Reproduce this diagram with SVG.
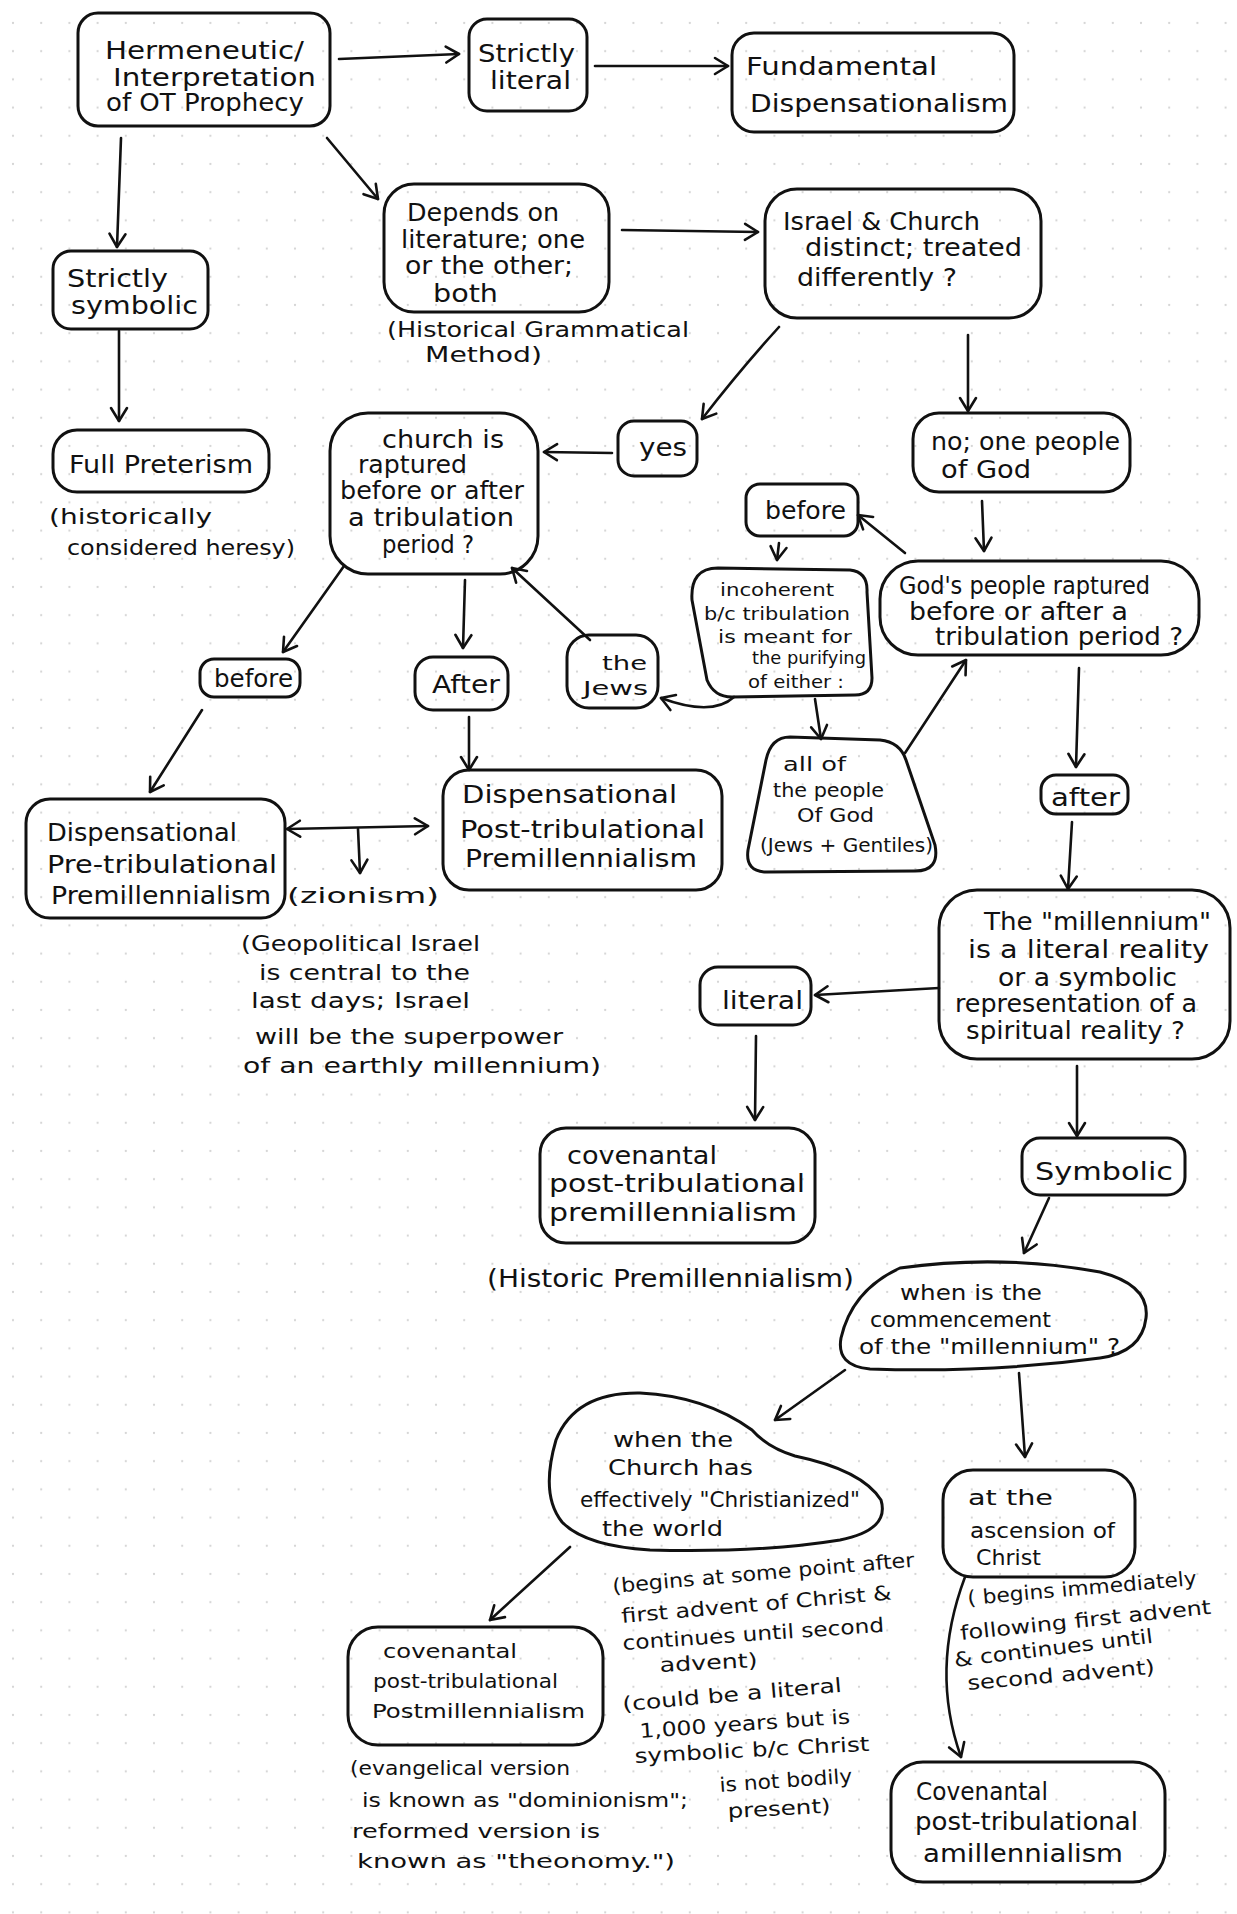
<svg xmlns="http://www.w3.org/2000/svg" width="1237" height="1914" viewBox="0 0 1237 1914">
<defs>
<pattern id="dots" x="13" y="23" width="28.2" height="28.2" patternUnits="userSpaceOnUse">
<circle cx="0" cy="0" r="1.1" fill="#d4d4d4"/>
<circle cx="28.2" cy="0" r="1.1" fill="#d4d4d4"/>
<circle cx="0" cy="28.2" r="1.1" fill="#d4d4d4"/>
<circle cx="28.2" cy="28.2" r="1.1" fill="#d4d4d4"/>
</pattern>
<marker id="ah" viewBox="-16 -10 20 20" refX="0" refY="0" markerWidth="20" markerHeight="20" markerUnits="userSpaceOnUse" orient="auto-start-reverse">
<path d="M-13,-8 L0,0 L-13,8" fill="none" stroke="#111" stroke-width="2.6" stroke-linecap="round" stroke-linejoin="round"/>
</marker>
<style>
text{font-family:"DejaVu Sans","Liberation Sans",sans-serif;fill:#111}
.n{font-size:24px}
.k{font-size:22px}
.sm{font-size:18px}
.md{font-size:20px}
.b{fill:none;stroke:#111;stroke-width:3;stroke-linejoin:round}
.c{fill:none;stroke:#111;stroke-width:2.6;stroke-linecap:round;marker-end:url(#ah)}
.d{marker-start:url(#ah)}
</style>
</defs>
<rect width="1237" height="1914" fill="#fff"/>
<rect width="1237" height="1914" fill="url(#dots)"/>

<g id="connectors">
<path class="c" d="M339,59 L459,54"/>
<path class="c" d="M595,66 L728,66"/>
<path class="c" d="M121,138 L117,247"/>
<path class="c" d="M119,331 L119,421"/>
<path class="c" d="M327,138 L378,199"/>
<path class="c" d="M622,230 L758,232"/>
<path class="c" d="M779,327 Q740,370 702,419"/>
<path class="c" d="M612,453 L544,452"/>
<path class="c" d="M968,335 L968,411"/>
<path class="c" d="M982,501 L984,551"/>
<path class="c" d="M905,553 L858,515"/>
<path class="c" d="M779,543 L777,560"/>
<path class="c" d="M734,697 Q712,717 661,698"/>
<path class="c" d="M815,699 L821,739"/>
<path class="c" d="M905,753 L966,660"/>
<path class="c" d="M1079,668 L1076,767"/>
<path class="c" d="M1072,822 L1068,889"/>
<path class="c" d="M939,988 L815,995"/>
<path class="c" d="M756,1036 L755,1120"/>
<path class="c" d="M1077,1066 L1077,1136"/>
<path class="c" d="M1049,1198 L1024,1253"/>
<path class="c" d="M845,1370 L775,1420"/>
<path class="c" d="M1019,1373 L1025,1457"/>
<path class="c" d="M570,1547 L490,1620"/>
<path class="c" d="M965,1577 Q930,1670 961,1757"/>
<path class="c" d="M344,566 L283,652"/>
<path class="c" d="M465,580 L463,648"/>
<path class="c" d="M590,640 L512,568"/>
<path class="c" d="M202,710 L150,792"/>
<path class="c" d="M469,717 L469,770"/>
<path class="c d" d="M287,829 L428,826"/>
<path class="c" d="M358,829 L360,873"/>
</g>

<g id="n-hermeneutic">
<rect class="b" x="78" y="13" width="252" height="113" rx="20"/>
<text class="n" x="105" y="59" textLength="199" lengthAdjust="spacingAndGlyphs">Hermeneutic/</text>
<text class="n" x="113" y="86" textLength="203" lengthAdjust="spacingAndGlyphs">Interpretation</text>
<text class="n" x="106" y="111" textLength="198" lengthAdjust="spacingAndGlyphs">of OT Prophecy</text>
</g>
<g id="n-strictly-literal">
<rect class="b" x="469" y="19" width="118" height="92" rx="18"/>
<text class="n" x="478" y="62" textLength="97" lengthAdjust="spacingAndGlyphs">Strictly</text>
<text class="n" x="490" y="89" textLength="81" lengthAdjust="spacingAndGlyphs">literal</text>
</g>
<g id="n-fundamental">
<rect class="b" x="732" y="33" width="282" height="99" rx="22"/>
<text class="n" x="746" y="75" textLength="191" lengthAdjust="spacingAndGlyphs">Fundamental</text>
<text class="n" x="750" y="112" textLength="258" lengthAdjust="spacingAndGlyphs">Dispensationalism</text>
</g>
<g id="n-strictly-symbolic">
<rect class="b" x="53" y="251" width="155" height="78" rx="18"/>
<text class="n" x="67" y="287" textLength="101" lengthAdjust="spacingAndGlyphs">Strictly</text>
<text class="n" x="71" y="314" textLength="127" lengthAdjust="spacingAndGlyphs">symbolic</text>
</g>
<g id="n-full-preterism">
<rect class="b" x="53" y="430" width="216" height="62" rx="24"/>
<text class="n" x="69" y="473" textLength="184" lengthAdjust="spacingAndGlyphs">Full Preterism</text>
</g>
<g id="note-heresy">
<text class="k" x="49" y="524" textLength="163" lengthAdjust="spacingAndGlyphs">(historically</text>
<text class="k" x="67" y="555" textLength="228" lengthAdjust="spacingAndGlyphs">considered heresy)</text>
</g>
<g id="n-depends">
<rect class="b" x="384" y="184" width="225" height="128" rx="30"/>
<text class="n" x="407" y="221" textLength="152" lengthAdjust="spacingAndGlyphs">Depends on</text>
<text class="n" x="401" y="248" textLength="184" lengthAdjust="spacingAndGlyphs">literature; one</text>
<text class="n" x="405" y="274" textLength="168" lengthAdjust="spacingAndGlyphs">or the other;</text>
<text class="n" x="433" y="302" textLength="65" lengthAdjust="spacingAndGlyphs">both</text>
</g>
<g id="note-historical">
<text class="k" x="387" y="337" textLength="302" lengthAdjust="spacingAndGlyphs">(Historical Grammatical</text>
<text class="k" x="425" y="362" textLength="117" lengthAdjust="spacingAndGlyphs">Method)</text>
</g>
<g id="n-israel">
<rect class="b" x="765" y="189" width="276" height="129" rx="32"/>
<text class="n" x="783" y="230" textLength="197" lengthAdjust="spacingAndGlyphs">Israel &amp; Church</text>
<text class="n" x="805" y="256" textLength="217" lengthAdjust="spacingAndGlyphs">distinct; treated</text>
<text class="n" x="797" y="286" textLength="160" lengthAdjust="spacingAndGlyphs">differently ?</text>
</g>
<g id="n-yes">
<rect class="b" x="618" y="421" width="79" height="55" rx="16"/>
<text class="n" x="639" y="456" textLength="48" lengthAdjust="spacingAndGlyphs">yes</text>
</g>
<g id="n-church">
<rect class="b" x="330" y="413" width="208" height="161" rx="38"/>
<text class="n" x="382" y="448" textLength="122" lengthAdjust="spacingAndGlyphs">church is</text>
<text class="n" x="358" y="473" textLength="109" lengthAdjust="spacingAndGlyphs">raptured</text>
<text class="n" x="340" y="499" textLength="184" lengthAdjust="spacingAndGlyphs">before or after</text>
<text class="n" x="348" y="526" textLength="166" lengthAdjust="spacingAndGlyphs">a tribulation</text>
<text class="n" x="382" y="553" textLength="92" lengthAdjust="spacingAndGlyphs">period ?</text>
</g>
<g id="n-no">
<rect class="b" x="913" y="413" width="217" height="79" rx="26"/>
<text class="n" x="931" y="450" textLength="189" lengthAdjust="spacingAndGlyphs">no; one people</text>
<text class="n" x="941" y="478" textLength="90" lengthAdjust="spacingAndGlyphs">of God</text>
</g>
<g id="n-before-right">
<rect class="b" x="746" y="484" width="112" height="52" rx="14"/>
<text class="n" x="765" y="519" textLength="81" lengthAdjust="spacingAndGlyphs">before</text>
</g>
<g id="n-gods-people">
<rect class="b" x="880" y="561" width="319" height="94" rx="38"/>
<text class="n" x="899" y="594" textLength="251" lengthAdjust="spacingAndGlyphs">God's people raptured</text>
<text class="n" x="909" y="620" textLength="219" lengthAdjust="spacingAndGlyphs">before or after a</text>
<text class="n" x="935" y="645" textLength="248" lengthAdjust="spacingAndGlyphs">tribulation period ?</text>
</g>
<g id="n-incoherent">
<path class="b" d="M718,568 L850,570 Q868,572 867,592 L872,678 Q872,695 855,695 L732,697 Q714,697 707,680 L692,600 Q690,568 718,568 Z"/>
<text class="sm" x="720" y="596" textLength="114" lengthAdjust="spacingAndGlyphs">incoherent</text>
<text class="sm" x="704" y="620" textLength="146" lengthAdjust="spacingAndGlyphs">b/c tribulation</text>
<text class="sm" x="718" y="643" textLength="134" lengthAdjust="spacingAndGlyphs">is meant for</text>
<text class="sm" x="752" y="664" textLength="114" lengthAdjust="spacingAndGlyphs">the purifying</text>
<text class="sm" x="748" y="688" textLength="96" lengthAdjust="spacingAndGlyphs">of either :</text>
</g>
<g id="n-the-jews">
<rect class="b" x="567" y="635" width="91" height="73" rx="22"/>
<text class="md" x="602" y="670" textLength="45" lengthAdjust="spacingAndGlyphs">the</text>
<text class="md" x="583" y="695" textLength="65" lengthAdjust="spacingAndGlyphs">Jews</text>
</g>
<g id="n-all-of">
<path class="b" d="M790,737 L880,740 Q900,742 906,760 L935,845 Q940,871 915,871 L767,872 Q745,872 748,850 L766,760 Q771,737 790,737 Z"/>
<text class="md" x="783" y="771" textLength="63" lengthAdjust="spacingAndGlyphs">all of</text>
<text class="md" x="773" y="797" textLength="111" lengthAdjust="spacingAndGlyphs">the people</text>
<text class="md" x="797" y="822" textLength="77" lengthAdjust="spacingAndGlyphs">Of God</text>
<text class="md" x="760" y="852" textLength="173" lengthAdjust="spacingAndGlyphs">(Jews + Gentiles)</text>
</g>
<g id="n-before-left">
<rect class="b" x="200" y="659" width="100" height="38" rx="14"/>
<text class="n" x="214" y="687" textLength="79" lengthAdjust="spacingAndGlyphs">before</text>
</g>
<g id="n-after-left">
<rect class="b" x="415" y="657" width="93" height="53" rx="18"/>
<text class="n" x="432" y="693" textLength="68" lengthAdjust="spacingAndGlyphs">After</text>
</g>
<g id="n-disp-pre">
<rect class="b" x="26" y="799" width="259" height="119" rx="24"/>
<text class="n" x="47" y="841" textLength="190" lengthAdjust="spacingAndGlyphs">Dispensational</text>
<text class="n" x="47" y="873" textLength="230" lengthAdjust="spacingAndGlyphs">Pre-tribulational</text>
<text class="n" x="51" y="904" textLength="220" lengthAdjust="spacingAndGlyphs">Premillennialism</text>
</g>
<g id="n-disp-post">
<rect class="b" x="443" y="770" width="279" height="120" rx="26"/>
<text class="n" x="462" y="803" textLength="215" lengthAdjust="spacingAndGlyphs">Dispensational</text>
<text class="n" x="460" y="838" textLength="245" lengthAdjust="spacingAndGlyphs">Post-tribulational</text>
<text class="n" x="465" y="867" textLength="232" lengthAdjust="spacingAndGlyphs">Premillennialism</text>
</g>
<g id="note-zionism">
<text class="k" x="287" y="903" textLength="152" lengthAdjust="spacingAndGlyphs">(zionism)</text>
<text class="k" x="241" y="951" textLength="239" lengthAdjust="spacingAndGlyphs">(Geopolitical Israel</text>
<text class="k" x="259" y="980" textLength="211" lengthAdjust="spacingAndGlyphs">is central to the</text>
<text class="k" x="251" y="1008" textLength="219" lengthAdjust="spacingAndGlyphs">last days; Israel</text>
<text class="k" x="255" y="1044" textLength="308" lengthAdjust="spacingAndGlyphs">will be the superpower</text>
<text class="k" x="243" y="1073" textLength="358" lengthAdjust="spacingAndGlyphs">of an earthly millennium)</text>
</g>
<g id="n-after-right">
<rect class="b" x="1041" y="775" width="87" height="39" rx="15"/>
<text class="n" x="1051" y="806" textLength="69" lengthAdjust="spacingAndGlyphs">after</text>
</g>
<g id="n-millennium">
<rect class="b" x="939" y="890" width="291" height="169" rx="38"/>
<text class="n" x="984" y="930" textLength="227" lengthAdjust="spacingAndGlyphs">The "millennium"</text>
<text class="n" x="968" y="958" textLength="241" lengthAdjust="spacingAndGlyphs">is a literal reality</text>
<text class="n" x="998" y="986" textLength="179" lengthAdjust="spacingAndGlyphs">or a symbolic</text>
<text class="n" x="955" y="1012" textLength="242" lengthAdjust="spacingAndGlyphs">representation of a</text>
<text class="n" x="966" y="1039" textLength="219" lengthAdjust="spacingAndGlyphs">spiritual reality ?</text>
</g>
<g id="n-literal">
<rect class="b" x="700" y="967" width="111" height="58" rx="18"/>
<text class="n" x="722" y="1009" textLength="81" lengthAdjust="spacingAndGlyphs">literal</text>
</g>
<g id="n-cov-premill">
<rect class="b" x="540" y="1128" width="275" height="115" rx="26"/>
<text class="n" x="567" y="1164" textLength="150" lengthAdjust="spacingAndGlyphs">covenantal</text>
<text class="n" x="549" y="1192" textLength="256" lengthAdjust="spacingAndGlyphs">post-tribulational</text>
<text class="n" x="549" y="1221" textLength="248" lengthAdjust="spacingAndGlyphs">premillennialism</text>
</g>
<g id="note-historic">
<text class="n" x="487" y="1287" textLength="367" lengthAdjust="spacingAndGlyphs">(Historic Premillennialism)</text>
</g>
<g id="n-symbolic">
<rect class="b" x="1022" y="1138" width="163" height="57" rx="18"/>
<text class="n" x="1035" y="1180" textLength="138" lengthAdjust="spacingAndGlyphs">Symbolic</text>
</g>
<g id="n-when">
<path class="b" d="M900,1268 Q1000,1254 1100,1272 Q1150,1285 1146,1318 Q1142,1352 1100,1358 Q990,1373 870,1369 Q836,1366 841,1338 Q852,1290 900,1268 Z"/>
<text class="k" x="900" y="1300" textLength="142" lengthAdjust="spacingAndGlyphs">when is the</text>
<text class="k" x="870" y="1327" textLength="181" lengthAdjust="spacingAndGlyphs">commencement</text>
<text class="k" x="859" y="1354" textLength="261" lengthAdjust="spacingAndGlyphs">of the "millennium" ?</text>
</g>
<g id="n-christianized">
<path class="b" d="M562,1522 Q540,1495 556,1440 Q575,1392 640,1393 Q705,1396 752,1430 Q768,1448 795,1456 Q862,1470 881,1500 Q890,1530 840,1540 Q760,1553 650,1550 Q585,1546 562,1522 Z"/>
<text class="k" x="613" y="1447" textLength="120" lengthAdjust="spacingAndGlyphs">when the</text>
<text class="k" x="608" y="1475" textLength="145" lengthAdjust="spacingAndGlyphs">Church has</text>
<text class="k" x="580" y="1507" textLength="280" lengthAdjust="spacingAndGlyphs">effectively "Christianized"</text>
<text class="k" x="602" y="1536" textLength="121" lengthAdjust="spacingAndGlyphs">the world</text>
</g>
<g id="n-ascension">
<rect class="b" x="943" y="1470" width="192" height="107" rx="30"/>
<text class="k" x="968" y="1505" textLength="85" lengthAdjust="spacingAndGlyphs">at the</text>
<text class="k" x="970" y="1538" textLength="145" lengthAdjust="spacingAndGlyphs">ascension of</text>
<text class="k" x="976" y="1565" textLength="65" lengthAdjust="spacingAndGlyphs">Christ</text>
</g>
<g id="note-begins-immediately">
<text class="md" x="968" y="1605" textLength="230" lengthAdjust="spacingAndGlyphs" transform="rotate(-5 968 1605)">( begins immediately</text>
<text class="md" x="961" y="1640" textLength="252" lengthAdjust="spacingAndGlyphs" transform="rotate(-6 961 1640)">following first advent</text>
<text class="md" x="955" y="1667" textLength="200" lengthAdjust="spacingAndGlyphs" transform="rotate(-7 955 1667)">&amp; continues until</text>
<text class="md" x="968" y="1690" textLength="188" lengthAdjust="spacingAndGlyphs" transform="rotate(-5 968 1690)">second advent)</text>
</g>
<g id="n-cov-postmill">
<rect class="b" x="348" y="1627" width="255" height="118" rx="30"/>
<text class="md" x="383" y="1658" textLength="134" lengthAdjust="spacingAndGlyphs">covenantal</text>
<text class="md" x="373" y="1688" textLength="185" lengthAdjust="spacingAndGlyphs">post-tribulational</text>
<text class="md" x="372" y="1718" textLength="213" lengthAdjust="spacingAndGlyphs">Postmillennialism</text>
</g>
<g id="note-dominionism">
<text class="md" x="350" y="1775" textLength="220" lengthAdjust="spacingAndGlyphs">(evangelical version</text>
<text class="md" x="362" y="1807" textLength="326" lengthAdjust="spacingAndGlyphs">is known as "dominionism";</text>
<text class="md" x="352" y="1838" textLength="248" lengthAdjust="spacingAndGlyphs">reformed version is</text>
<text class="md" x="357" y="1868" textLength="318" lengthAdjust="spacingAndGlyphs">known as "theonomy.")</text>
</g>
<g id="note-begins-some-point">
<text class="md" x="613" y="1593" textLength="303" lengthAdjust="spacingAndGlyphs" transform="rotate(-5 613 1593)">(begins at some point after</text>
<text class="md" x="622" y="1623" textLength="271" lengthAdjust="spacingAndGlyphs" transform="rotate(-5 622 1623)">first advent of Christ &amp;</text>
<text class="md" x="623" y="1650" textLength="262" lengthAdjust="spacingAndGlyphs" transform="rotate(-4 623 1650)">continues until second</text>
<text class="md" x="660" y="1672" textLength="98" lengthAdjust="spacingAndGlyphs" transform="rotate(-3 660 1672)">advent)</text>
<text class="md" x="623" y="1711" textLength="220" lengthAdjust="spacingAndGlyphs" transform="rotate(-5 623 1711)">(could be a literal</text>
<text class="md" x="640" y="1738" textLength="211" lengthAdjust="spacingAndGlyphs" transform="rotate(-4 640 1738)">1,000 years but is</text>
<text class="md" x="635" y="1763" textLength="235" lengthAdjust="spacingAndGlyphs" transform="rotate(-3 635 1763)">symbolic b/c Christ</text>
<text class="md" x="720" y="1792" textLength="133" lengthAdjust="spacingAndGlyphs" transform="rotate(-4 720 1792)">is not bodily</text>
<text class="md" x="728" y="1818" textLength="103" lengthAdjust="spacingAndGlyphs" transform="rotate(-3 728 1818)">present)</text>
</g>
<g id="n-amill">
<rect class="b" x="891" y="1762" width="274" height="120" rx="32"/>
<text class="n" x="916" y="1800" textLength="132" lengthAdjust="spacingAndGlyphs">Covenantal</text>
<text class="n" x="915" y="1830" textLength="223" lengthAdjust="spacingAndGlyphs">post-tribulational</text>
<text class="n" x="923" y="1862" textLength="200" lengthAdjust="spacingAndGlyphs">amillennialism</text>
</g>
</svg>
